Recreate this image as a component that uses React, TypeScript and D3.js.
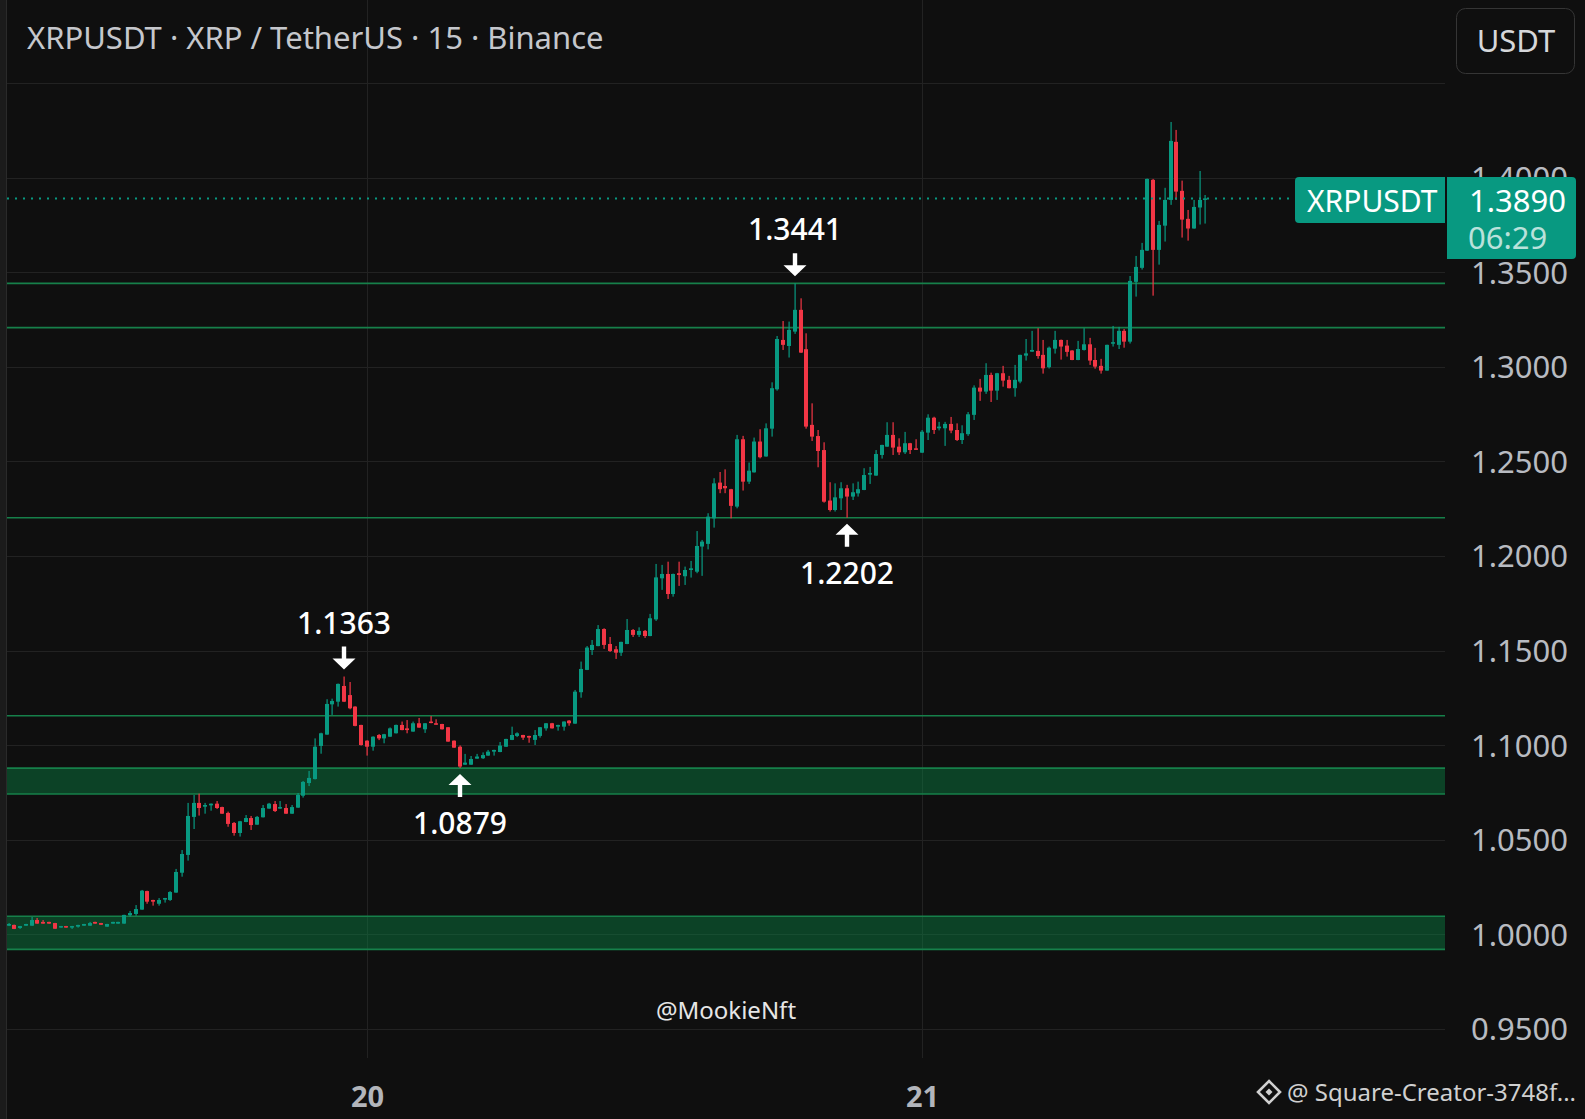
import React, { useEffect, useRef } from 'react';
import * as d3 from 'd3';

type Candle = [number, number, number, number]; // open, high, low, close

// XRPUSDT 15m candles, the 19th from 08:30
const day19: Candle[] = [
  [1.0046, 1.0060, 1.0044, 1.0055], [1.0050, 1.0052, 1.0028, 1.0029], [1.0034, 1.0045, 1.0029, 1.0044],
  [1.0046, 1.0056, 1.0045, 1.0055], [1.0046, 1.0092, 1.0045, 1.0076], [1.0076, 1.0087, 1.0056, 1.0057],
  [1.0066, 1.0076, 1.0056, 1.0057], [1.0066, 1.0067, 1.0056, 1.0057], [1.0060, 1.0061, 1.0029, 1.0030],
  [1.0036, 1.0045, 1.0035, 1.0044], [1.0044, 1.0045, 1.0035, 1.0036], [1.0036, 1.0045, 1.0029, 1.0044],
  [1.0041, 1.0051, 1.0036, 1.0050], [1.0046, 1.0056, 1.0045, 1.0055], [1.0046, 1.0066, 1.0045, 1.0060],
  [1.0066, 1.0067, 1.0056, 1.0057], [1.0060, 1.0061, 1.0050, 1.0051], [1.0041, 1.0056, 1.0040, 1.0055],
  [1.0057, 1.0067, 1.0056, 1.0066], [1.0057, 1.0067, 1.0056, 1.0066], [1.0057, 1.0104, 1.0056, 1.0103],
  [1.0101, 1.0124, 1.0094, 1.0113], [1.0108, 1.0155, 1.0099, 1.0134], [1.0131, 1.0235, 1.0130, 1.0231],
  [1.0229, 1.0231, 1.0162, 1.0173], [1.0182, 1.0183, 1.0152, 1.0173], [1.0162, 1.0192, 1.0152, 1.0182],
  [1.0184, 1.0193, 1.0168, 1.0192], [1.0182, 1.0229, 1.0177, 1.0224], [1.0221, 1.0346, 1.0220, 1.0330],
  [1.0326, 1.0446, 1.0305, 1.0425], [1.0420, 1.0695, 1.0390, 1.0626], [1.0621, 1.0737, 1.0557, 1.0695],
  [1.0695, 1.0744, 1.0628, 1.0668], [1.0675, 1.0695, 1.0638, 1.0684], [1.0682, 1.0692, 1.0654, 1.0691],
  [1.0691, 1.0705, 1.0663, 1.0668], [1.0673, 1.0675, 1.0637, 1.0638], [1.0642, 1.0649, 1.0569, 1.0584],
  [1.0589, 1.0594, 1.0522, 1.0536], [1.0536, 1.0600, 1.0517, 1.0598], [1.0594, 1.0631, 1.0593, 1.0615],
  [1.0615, 1.0626, 1.0552, 1.0578], [1.0580, 1.0626, 1.0579, 1.0621], [1.0619, 1.0684, 1.0618, 1.0668],
  [1.0665, 1.0695, 1.0664, 1.0691], [1.0689, 1.0705, 1.0647, 1.0652], [1.0665, 1.0705, 1.0664, 1.0673],
  [1.0668, 1.0689, 1.0637, 1.0638], [1.0638, 1.0684, 1.0637, 1.0673], [1.0670, 1.0747, 1.0669, 1.0737],
  [1.0733, 1.0811, 1.0723, 1.0806], [1.0800, 1.0864, 1.0784, 1.0827], [1.0821, 1.1036, 1.0819, 1.0992],
  [1.0996, 1.1066, 1.0955, 1.1063], [1.1056, 1.1243, 1.1055, 1.1218], [1.1216, 1.1246, 1.1160, 1.1234],
  [1.1230, 1.1326, 1.1204, 1.1324], [1.1313, 1.1363, 1.1228, 1.1230], [1.1265, 1.1334, 1.1190, 1.1195],
  [1.1204, 1.1206, 1.1100, 1.1102], [1.1107, 1.1108, 1.0998, 1.1001],
];

const day20: Candle[] = [
  [1.1024, 1.1026, 1.0945, 1.0992], [1.0992, 1.1047, 1.0971, 1.1045], [1.1054, 1.1059, 1.1027, 1.1036],
  [1.1036, 1.1060, 1.1010, 1.1058], [1.1045, 1.1094, 1.1044, 1.1089], [1.1063, 1.1109, 1.1062, 1.1107],
  [1.1107, 1.1125, 1.1079, 1.1080], [1.1089, 1.1133, 1.1063, 1.1080], [1.1072, 1.1125, 1.1071, 1.1116],
  [1.1116, 1.1144, 1.1092, 1.1093], [1.1084, 1.1117, 1.1065, 1.1116], [1.1125, 1.1154, 1.1116, 1.1119],
  [1.1116, 1.1137, 1.1108, 1.1109], [1.1112, 1.1113, 1.1083, 1.1084], [1.1095, 1.1096, 1.1018, 1.1019],
  [1.1024, 1.1025, 1.0986, 1.0987], [1.0992, 1.0999, 1.0879, 1.0887], [1.0897, 1.0954, 1.0896, 1.0908],
  [1.0897, 1.0943, 1.0896, 1.0927], [1.0929, 1.0954, 1.0928, 1.0940], [1.0931, 1.0962, 1.0927, 1.0948],
  [1.0945, 1.0975, 1.0944, 1.0966], [1.0966, 1.0976, 1.0945, 1.0975], [1.0964, 1.1017, 1.0963, 1.0998],
  [1.0992, 1.1034, 1.0991, 1.1033], [1.1028, 1.1098, 1.1027, 1.1054], [1.1049, 1.1068, 1.1043, 1.1063],
  [1.1054, 1.1055, 1.1028, 1.1040], [1.1049, 1.1050, 1.1013, 1.1040], [1.1028, 1.1080, 1.1001, 1.1054],
  [1.1049, 1.1096, 1.1040, 1.1095], [1.1089, 1.1117, 1.1077, 1.1116], [1.1116, 1.1118, 1.1088, 1.1089],
  [1.1098, 1.1108, 1.1077, 1.1107], [1.1098, 1.1126, 1.1077, 1.1125], [1.1130, 1.1133, 1.1103, 1.1116],
  [1.1114, 1.1292, 1.1113, 1.1283], [1.1280, 1.1442, 1.1251, 1.1403], [1.1398, 1.1524, 1.1397, 1.1516],
  [1.1503, 1.1556, 1.1477, 1.1530], [1.1524, 1.1635, 1.1523, 1.1614], [1.1614, 1.1618, 1.1509, 1.1530],
  [1.1535, 1.1572, 1.1493, 1.1498], [1.1507, 1.1524, 1.1456, 1.1489], [1.1489, 1.1547, 1.1472, 1.1546],
  [1.1535, 1.1667, 1.1534, 1.1609], [1.1609, 1.1614, 1.1572, 1.1583], [1.1583, 1.1623, 1.1572, 1.1604],
  [1.1604, 1.1609, 1.1567, 1.1577], [1.1577, 1.1694, 1.1576, 1.1671], [1.1665, 1.1958, 1.1657, 1.1887],
  [1.1882, 1.1953, 1.1821, 1.1905], [1.1905, 1.1970, 1.1773, 1.1799], [1.1799, 1.1907, 1.1785, 1.1905],
  [1.1909, 1.1970, 1.1842, 1.1900], [1.1893, 1.1944, 1.1847, 1.1926], [1.1926, 1.1974, 1.1886, 1.1935],
  [1.1917, 1.2132, 1.1909, 1.2053], [1.2050, 1.2085, 1.1895, 1.2076], [1.2064, 1.2226, 1.2035, 1.2208],
  [1.2199, 1.2411, 1.2150, 1.2384], [1.2388, 1.2444, 1.2332, 1.2353], [1.2370, 1.2458, 1.2332, 1.2358],
  [1.2353, 1.2355, 1.2199, 1.2265], [1.2261, 1.2640, 1.2252, 1.2617], [1.2617, 1.2635, 1.2346, 1.2393],
  [1.2393, 1.2494, 1.2381, 1.2451], [1.2442, 1.2626, 1.2441, 1.2605], [1.2605, 1.2670, 1.2516, 1.2522],
  [1.2526, 1.2701, 1.2525, 1.2675], [1.2673, 1.2918, 1.2631, 1.2887], [1.2881, 1.3163, 1.2874, 1.3147],
  [1.3142, 1.3242, 1.3089, 1.3116], [1.3110, 1.3239, 1.3049, 1.3195], [1.3186, 1.3441, 1.3174, 1.3301],
  [1.3301, 1.3362, 1.3073, 1.3075], [1.3093, 1.3177, 1.2673, 1.2684], [1.2693, 1.2807, 1.2608, 1.2631],
  [1.2634, 1.2666, 1.2469, 1.2555], [1.2560, 1.2601, 1.2282, 1.2287], [1.2293, 1.2390, 1.2235, 1.2243],
  [1.2243, 1.2384, 1.2235, 1.2310], [1.2305, 1.2390, 1.2243, 1.2358], [1.2358, 1.2376, 1.2202, 1.2314],
  [1.2314, 1.2384, 1.2296, 1.2337], [1.2331, 1.2393, 1.2314, 1.2353], [1.2349, 1.2464, 1.2348, 1.2428],
  [1.2430, 1.2471, 1.2381, 1.2439], [1.2425, 1.2560, 1.2424, 1.2539], [1.2534, 1.2588, 1.2515, 1.2587],
  [1.2578, 1.2707, 1.2577, 1.2640], [1.2640, 1.2707, 1.2534, 1.2573], [1.2578, 1.2622, 1.2534, 1.2548],
  [1.2548, 1.2656, 1.2539, 1.2596], [1.2596, 1.2598, 1.2539, 1.2560], [1.2569, 1.2617, 1.2561, 1.2562],
];

const day21: Candle[] = [
  [1.2546, 1.2666, 1.2545, 1.2657], [1.2652, 1.2749, 1.2613, 1.2731], [1.2731, 1.2736, 1.2645, 1.2666],
  [1.2675, 1.2709, 1.2664, 1.2684], [1.2675, 1.2709, 1.2582, 1.2698], [1.2698, 1.2735, 1.2649, 1.2663],
  [1.2666, 1.2701, 1.2608, 1.2613], [1.2613, 1.2691, 1.2592, 1.2649], [1.2644, 1.2761, 1.2635, 1.2749],
  [1.2746, 1.2902, 1.2719, 1.2890], [1.2890, 1.2936, 1.2820, 1.2869], [1.2869, 1.3019, 1.2857, 1.2957],
  [1.2957, 1.2969, 1.2814, 1.2874], [1.2874, 1.2968, 1.2825, 1.2966], [1.2966, 1.3005, 1.2895, 1.2927],
  [1.2931, 1.2952, 1.2886, 1.2887], [1.2887, 1.3010, 1.2842, 1.2931], [1.2922, 1.3064, 1.2913, 1.3063],
  [1.3059, 1.3147, 1.3033, 1.3071], [1.3080, 1.3190, 1.3079, 1.3089], [1.3084, 1.3204, 1.3043, 1.3057],
  [1.3063, 1.3142, 1.2964, 1.2992], [1.2998, 1.3107, 1.2991, 1.3101], [1.3096, 1.3190, 1.3070, 1.3142],
  [1.3142, 1.3144, 1.3038, 1.3107], [1.3112, 1.3142, 1.3054, 1.3079], [1.3086, 1.3088, 1.3035, 1.3036],
  [1.3036, 1.3137, 1.3035, 1.3094], [1.3089, 1.3204, 1.3086, 1.3119], [1.3119, 1.3153, 1.3010, 1.3033],
  [1.3036, 1.3100, 1.2990, 1.3001], [1.3005, 1.3042, 1.2964, 1.2980], [1.2980, 1.3117, 1.2979, 1.3116],
  [1.3124, 1.3216, 1.3107, 1.3130], [1.3116, 1.3211, 1.3094, 1.3190], [1.3190, 1.3200, 1.3101, 1.3133],
  [1.3133, 1.3480, 1.3123, 1.3454], [1.3449, 1.3586, 1.3371, 1.3528], [1.3523, 1.3655, 1.3514, 1.3618],
  [1.3614, 1.3995, 1.3612, 1.3993], [1.3988, 1.3993, 1.3376, 1.3618], [1.3618, 1.3771, 1.3540, 1.3750],
  [1.3746, 1.3946, 1.3662, 1.3882], [1.3882, 1.4294, 1.3856, 1.4194], [1.4189, 1.4252, 1.3882, 1.3926],
  [1.3930, 1.3984, 1.3683, 1.3778], [1.3782, 1.3829, 1.3667, 1.3731], [1.3731, 1.3882, 1.3730, 1.3845],
  [1.3842, 1.4035, 1.3752, 1.3882], [1.3882, 1.3908, 1.3757, 1.3890],
];

const firstCandle = new Date(2024, 10, 19, 8, 30);
const dayTicks = [new Date(2024, 10, 20), new Date(2024, 10, 21)];
const priceTicks = [0.95, 1.0, 1.05, 1.1, 1.15, 1.2, 1.25, 1.3, 1.35, 1.4, 1.45];

// drawn levels
const levelLines = [1.3441, 1.3207, 1.2202, 1.1156];
const levelZones: [number, number][] = [[1.0742, 1.0879], [0.9921, 1.0096]];

// high / low callouts (candle = index from the first candle)
const markers = [
  { candle: 58, price: 1.1363, side: 'high' },
  { candle: 78, price: 1.0879, side: 'low' },
  { candle: 136, price: 1.3441, side: 'high' },
  { candle: 145, price: 1.2202, side: 'low' },
];

const symbol = 'XRPUSDT';
const title = 'XRPUSDT · XRP / TetherUS · 15 · Binance';
const lastPrice = 1.389;
const countdown = '06:29';

const UP = '#089981';
const DOWN = '#f23645';
const FONT = "'Noto Sans', 'Open Sans', sans-serif";

export default function App() {
  const ref = useRef<SVGSVGElement>(null);

  useEffect(() => {
    const W = 1585, H = 1119;
    const plotLeft = 7, plotRight = 1445;

    const candles = [...day19, ...day20, ...day21].map((d, i) => ({
      t: d3.timeMinute.offset(firstCandle, 15 * i),
      o: d[0], h: d[1], l: d[2], c: d[3],
    }));

    const x = d3.scaleTime().domain(dayTicks).range([367, 922]);
    const y = d3.scaleLinear().domain([0.95, 1.45]).range([1029, 83]);

    const svg = d3.select(ref.current);
    svg.selectAll('*').remove();

    svg.append('rect').attr('width', W).attr('height', H).attr('fill', '#0f0f0f');
    svg.append('rect').attr('x', 0).attr('width', 6).attr('height', H).attr('fill', '#1b1b1b');
    svg.append('line').attr('x1', 6.5).attr('x2', 6.5).attr('y1', 0).attr('y2', H)
      .attr('stroke', '#2a2a2a');

    // grid
    const grid = svg.append('g').attr('stroke', '#222222').attr('stroke-width', 1);
    grid.selectAll('line.h').data(priceTicks).enter().append('line')
      .attr('x1', plotLeft).attr('x2', plotRight)
      .attr('y1', d => Math.round(y(d)) + 0.5).attr('y2', d => Math.round(y(d)) + 0.5);
    grid.selectAll('line.v').data(dayTicks).enter().append('line')
      .attr('x1', d => Math.round(x(d)) + 0.5).attr('x2', d => Math.round(x(d)) + 0.5)
      .attr('y1', 0).attr('y2', 1058);

    // zones and level lines
    const levels = svg.append('g');
    levels.selectAll('rect').data(levelZones).enter().append('rect')
      .attr('x', plotLeft).attr('width', plotRight - plotLeft)
      .attr('y', d => y(d[1])).attr('height', d => y(d[0]) - y(d[1]))
      .attr('fill', 'rgb(10,135,70)').attr('fill-opacity', 0.43);
    const edges = [...levelLines, ...levelZones.flat()];
    levels.selectAll('line').data(edges).enter().append('line')
      .attr('x1', plotLeft).attr('x2', plotRight)
      .attr('y1', d => y(d)).attr('y2', d => y(d))
      .attr('stroke', '#16804a').attr('stroke-width', 1.6);

    // candles
    const cg = svg.append('g');
    const cx = (d: typeof candles[number]) => Math.round(x(d.t));
    cg.selectAll('rect.wick').data(candles).enter().append('rect')
      .attr('x', d => cx(d) - 0.5).attr('width', 1.2)
      .attr('y', d => y(d.h)).attr('height', d => Math.max(1, y(d.l) - y(d.h)))
      .attr('fill', d => (d.c >= d.o ? UP : DOWN));
    cg.selectAll('rect.body').data(candles).enter().append('rect')
      .attr('x', d => cx(d) - 2).attr('width', 4)
      .attr('y', d => y(Math.max(d.o, d.c)))
      .attr('height', d => Math.max(1.5, Math.abs(y(d.o) - y(d.c))))
      .attr('fill', d => (d.c >= d.o ? UP : DOWN));

    // last price line
    const yLast = y(lastPrice);
    svg.append('line').attr('x1', plotLeft).attr('x2', 1295).attr('y1', yLast).attr('y2', yLast)
      .attr('stroke', UP).attr('stroke-width', 2).attr('stroke-dasharray', '2 6');

    // callouts
    const mg = svg.append('g');
    markers.forEach(m => {
      const mx = Math.round(x(candles[m.candle].t));
      const isHigh = m.side === 'high';
      const tip = isHigh ? y(m.price) - 7 : y(m.price) + 6;
      const s = isHigh ? -1 : 1;
      const path = d3.path();
      path.moveTo(mx, tip);
      path.lineTo(mx + 11.5, tip + s * 11);
      path.lineTo(mx + 2.2, tip + s * 11);
      path.lineTo(mx + 2.2, tip + s * 23);
      path.lineTo(mx - 2.2, tip + s * 23);
      path.lineTo(mx - 2.2, tip + s * 11);
      path.lineTo(mx - 11.5, tip + s * 11);
      path.closePath();
      mg.append('path').attr('d', path.toString()).attr('fill', '#ffffff');
      mg.append('text')
        .attr('x', mx).attr('y', isHigh ? tip - 36 : tip + 60)
        .attr('text-anchor', 'middle').attr('font-family', FONT).attr('font-size', 30)
        .attr('font-weight', 500).attr('fill', '#ffffff')
        .text(d3.format('.4f')(m.price));
    });

    // price axis
    const yAxis = svg.append('g').attr('transform', 'translate(1458,0)')
      .call(d3.axisRight(y).tickValues(priceTicks.filter(v => v < 1.42))
        .tickSize(0).tickPadding(13).tickFormat(d3.format('.4f')));
    yAxis.select('.domain').remove();
    yAxis.selectAll('text').attr('font-family', FONT).attr('font-size', 31)
      .attr('fill', '#b8bbc1').attr('dy', '0.35em');

    // time axis
    const xAxis = svg.append('g').attr('transform', 'translate(0,1079)')
      .call(d3.axisBottom(x).tickValues(dayTicks).tickSize(0).tickPadding(0)
        .tickFormat(d3.timeFormat('%-d') as any));
    xAxis.select('.domain').remove();
    xAxis.selectAll('text').attr('font-family', FONT).attr('font-size', 29)
      .attr('font-weight', 700).attr('fill', '#b2b5bb').attr('dy', '0.95em');

    // symbol + price labels
    svg.append('path')
      .attr('d', 'M1299,177 H1445 V223 H1299 Q1295,223 1295,219 V181 Q1295,177 1299,177 Z')
      .attr('fill', UP);
    svg.append('text').attr('x', 1307).attr('y', 212).attr('font-family', FONT)
      .attr('font-size', 30).attr('fill', '#ffffff').text(symbol);
    svg.append('path')
      .attr('d', 'M1447,177 H1572 Q1576,177 1576,181 V255 Q1576,259 1572,259 H1447 Z')
      .attr('fill', UP);
    svg.append('text').attr('x', 1469).attr('y', 212).attr('font-family', FONT)
      .attr('font-size', 31).attr('fill', '#ffffff').text(d3.format('.4f')(lastPrice));
    svg.append('text').attr('x', 1468).attr('y', 249).attr('font-family', FONT)
      .attr('font-size', 31).attr('fill', '#ffffff').attr('fill-opacity', 0.72).text(countdown);

    // header
    svg.append('text').attr('x', 27).attr('y', 49).attr('font-family', FONT)
      .attr('font-size', 31).attr('fill', '#c5c7cc').text(title);

    // currency button
    svg.append('rect').attr('x', 1456.5).attr('y', 8.5).attr('width', 118).attr('height', 65)
      .attr('rx', 9).attr('fill', '#0f0f0f').attr('stroke', '#353535');
    svg.append('text').attr('x', 1516).attr('y', 52).attr('text-anchor', 'middle')
      .attr('font-family', FONT).attr('font-size', 31).attr('fill', '#d6d7da').text('USDT');

    // watermark + credit
    svg.append('text').attr('x', 726).attr('y', 1019).attr('text-anchor', 'middle')
      .attr('font-family', FONT).attr('font-size', 24).attr('fill', '#e6e6e6').text('@MookieNft');

    const logo = svg.append('g').attr('transform', 'translate(1269,1092)');
    logo.append('path').attr('d', 'M0,-11 L11,0 L0,11 L-11,0 Z')
      .attr('fill', 'none').attr('stroke', '#d0d0d0').attr('stroke-width', 2.6);
    logo.append('path').attr('d', 'M0,-3.5 L3.5,0 L0,3.5 L-3.5,0 Z').attr('fill', '#d0d0d0');
    svg.append('text').attr('x', 1287).attr('y', 1101).attr('font-family', FONT)
      .attr('font-size', 24).attr('fill', '#d0d0d0')
      .attr('textLength', 289).attr('lengthAdjust', 'spacingAndGlyphs')
      .text('@ Square-Creator-3748f...');
  }, []);

  return (
    <svg ref={ref} width={1585} height={1119}
      style={{ position: 'absolute', left: 0, top: 0, display: 'block' }} />
  );
}
